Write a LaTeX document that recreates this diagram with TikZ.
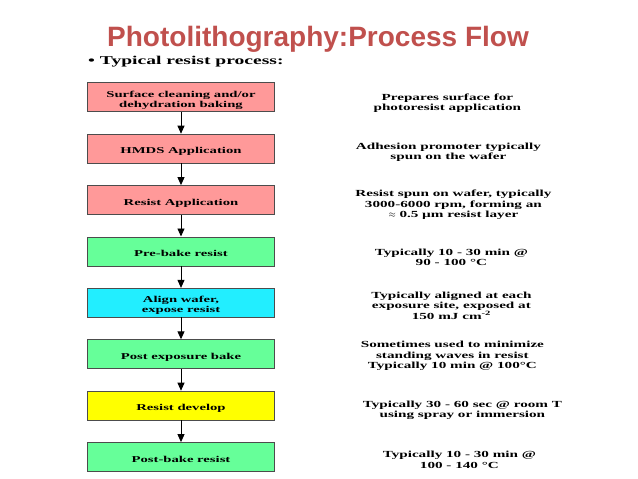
\documentclass[tikz,border=0pt]{standalone}
\usepackage{fontspec}
\setmainfont{Liberation Serif}
\newfontfamily\widefont[FakeStretch=1.63]{Liberation Serif}
\newfontfamily\titlefont{Liberation Sans}
\usepackage{tikz}
\usetikzlibrary{arrows.meta}
\definecolor{titlered}{HTML}{C0504D}
\definecolor{pinkfill}{HTML}{FF9999}
\definecolor{greenfill}{HTML}{66FF99}
\definecolor{cyanfill}{HTML}{22EEFF}
\definecolor{yellowfill}{HTML}{FFFF00}

\begin{document}
\begin{tikzpicture}[->,>={Triangle[length=8pt,width=7pt]},node distance=51.4pt,
                    x=1pt,y=1pt,
                    stepbox/.style={rectangle, minimum width=187pt, minimum height=29pt, text centered, align=center,
                                    draw=black!70, thin, text height=11pt, text depth=0pt,
                                    font=\widefont\bfseries\fontsize{9}{10}\selectfont},
                    twolines/.style={text height=20pt},
                    pinkk/.style={stepbox, fill=pinkfill},
                    greenn/.style={stepbox, fill=greenfill},
                    cyann/.style={stepbox, fill=cyanfill},
                    yelloww/.style={stepbox, fill=yellowfill},
                    infoo/.style={align=center, font=\widefont\bfseries\fontsize{9.3}{10.4}\selectfont}]
  \useasboundingbox (0,0) rectangle (638,-479);
  \node (Title) at (318,-39) [text=titlered, font=\titlefont\bfseries\fontsize{28}{30}\selectfont] {Photolithography:Process Flow};
  \node (Subtitle) at (88,-62) [anchor=west, inner sep=0pt, font=\widefont\bfseries\fontsize{12}{14}\selectfont] {\textbullet\ Typical resist process:};

  \node (Surface) at (181,-97) [pinkk, twolines] {Surface cleaning and/or\\dehydration baking};
  \node (HMDS) [pinkk, below of=Surface] {HMDS Application};
  \node (Resist) [pinkk, below of=HMDS] {Resist Application};
  \node (Prebake) [greenn, below of=Resist] {Pre-bake resist};
  \node (Align) [cyann, twolines, below of=Prebake] {Align wafer,\\expose resist};
  \node (PEB) [greenn, below of=Align] {Post exposure bake};
  \node (Develop) [yelloww, below of=PEB] {Resist develop};
  \node (Postbake) [greenn, below of=Develop] {Post-bake resist};

  \node (SurfaceNote) [infoo, right of=Surface, xshift=215pt, yshift=-6pt] {Prepares surface for\\photoresist application};
  \node (HMDSNote) [infoo, right of=HMDS, xshift=216pt, yshift=-4pt] {Adhesion promoter typically\\spun on the wafer};
  \node (ResistNote) [infoo, right of=Resist, xshift=221pt, yshift=-5pt] {Resist spun on wafer, typically\\3000-6000 rpm, forming an\\$\approx$ 0.5 \textmu m resist layer};
  \node (PrebakeNote) [infoo, right of=Prebake, xshift=219pt, yshift=-6pt] {Typically 10 - 30 min @\\90 - 100 \textdegree C};
  \node (AlignNote) [infoo, right of=Align, xshift=219pt, yshift=-3pt] {Typically aligned at each\\exposure site, exposed at\\150 mJ cm\textsuperscript{-2}};
  \node (PEBNote) [infoo, right of=PEB, xshift=220pt, yshift=-2pt] {Sometimes used to minimize\\standing waves in resist\\Typically 10 min @ 100\textdegree C};
  \node (DevelopNote) [infoo, right of=Develop, xshift=230pt, yshift=-5pt] {Typically 30 - 60 sec @ room T\\using spray or immersion};
  \node (PostbakeNote) [infoo, right of=Postbake, xshift=227pt, yshift=-3pt] {Typically 10 - 30 min @\\100 - 140 \textdegree C};

  \path[every edge/.style={draw=black, line width=0.9pt, ->}]
    (Surface) edge (HMDS)
    (HMDS) edge (Resist)
    (Resist) edge (Prebake)
    (Prebake) edge (Align)
    (Align) edge (PEB)
    (PEB) edge (Develop)
    (Develop) edge (Postbake)
    ;
\end{tikzpicture}
\end{document}
